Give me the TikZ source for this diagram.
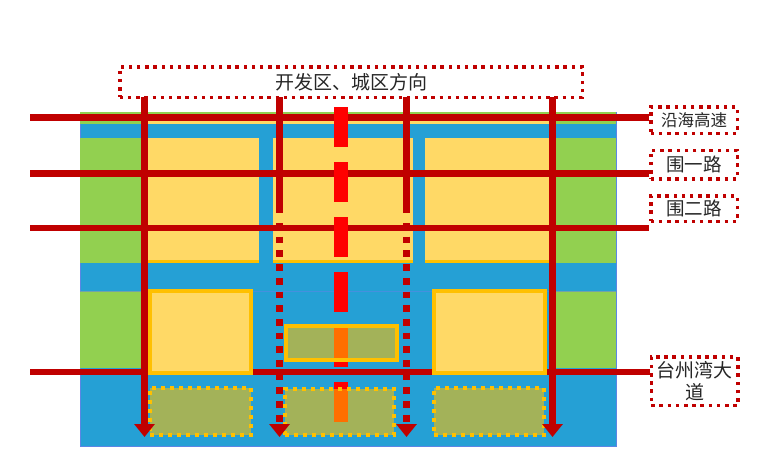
\documentclass[tikz,border=0pt]{standalone}
\usepackage{fontspec}
\newfontfamily\cjk{Noto Sans CJK SC}
\usetikzlibrary{arrows.meta}
\definecolor{mgreen}{HTML}{92D050}
\definecolor{mblue}{HTML}{25A0D5}
\definecolor{myellow}{HTML}{FFD966}
\definecolor{morange}{HTML}{FFC000}
\definecolor{dred}{HTML}{C00000}
\definecolor{bred}{HTML}{FF0000}
\definecolor{edgeblue}{HTML}{5B86E5}
\definecolor{labeltext}{HTML}{262626}
\begin{document}
\begin{tikzpicture}[x=1pt,y=-1pt,
  road/.style={dred,line width=6.7pt},
  roadarrow/.style={road,-{Triangle[width=20pt,length=13pt]}},
  dotroad/.style={road,dash pattern=on 6.7pt off 7pt,-{Triangle[width=20pt,length=13pt]}},
  labelbox/.style={draw=dred,line width=3.5pt,dash pattern=on 3.5pt off 4.7pt,fill=white,
    text=labeltext,inner sep=0pt,align=center},
  lfont/.style={font=\cjk\fontsize{18.5}{22}\selectfont},
  yblock/.style={fill=myellow},
  ybox/.style={fill=myellow,draw=morange,line width=4pt},
  obox/.style={fill=morange,fill opacity=0.58,draw=morange,line width=4pt},
  dbox/.style={obox,dash pattern=on 4pt off 5pt},
]
\useasboundingbox (0,0) rectangle (760,453);
\fill[white] (0,0) rectangle (760,453);

% base map
\fill[mblue,draw=edgeblue,line width=0.8pt] (80,112) rectangle (616,446);
\fill[mgreen] (80,112) rectangle (616,124);
\fill[myellow] (145,120) rectangle (553,124);
\fill[mgreen] (80,138) rectangle (145,263);
\fill[mgreen] (80,291) rectangle (145,368);
\fill[mgreen] (553,138) rectangle (616,263);
\fill[mgreen] (553,291) rectangle (616,368);
\draw[edgeblue,line width=0.6pt,opacity=0.6] (80,291) -- (616,291);

% top row blocks
\fill[yblock] (145,138) rectangle (259,263);
\fill[yblock] (273,138) rectangle (413,263);
\fill[yblock] (425,138) rectangle (553,263);
\draw[morange,line width=2.5pt] (145,261.5) -- (259,261.5);
\draw[morange,line width=2.5pt] (273,261.5) -- (413,261.5);
\draw[morange,line width=2.5pt] (425,261.5) -- (553,261.5);

% labels
\node[labelbox,font=\cjk\fontsize{19}{22}\selectfont,minimum width=462.5pt,minimum height=30.5pt] (top) at (351,82) {开发区、城区方向};
\node[labelbox,font=\cjk\fontsize{16.5}{20}\selectfont,minimum width=86.5pt,minimum height=26.5pt] (r1) at (694,120) {沿海高速};
\node[labelbox,lfont,minimum width=86.5pt,minimum height=28.5pt] (r2) at (694,164.5) {围一路};
\node[labelbox,lfont,minimum width=86.5pt,minimum height=25.5pt] (r3) at (694,208.5) {围二路};
\node[labelbox,font=\cjk\fontsize{19}{22}\selectfont,minimum width=86.5pt,minimum height=48.5pt] (r4) at (694.5,381) {台州湾大\\道};

% horizontal roads
\coordinate (h1) at (30,117.5);
\coordinate (h2) at (30,173.5);
\coordinate (h3) at (30,228);
\coordinate (h4) at (30,372);
\draw[road] (h1) -- (r1.west |- h1);
\draw[road] (h2) -- (r2.west |- h2);
\draw[road] (h3) -- (r3.west |- h3);
\draw[road] (h4) -- (r4.west |- h4);

% central dashed red axis
\coordinate (axA) at (341,107);
\coordinate (axB) at (341,422);
\draw[bred,line width=14pt,dash pattern=on 40pt off 15pt] (axA) -- (axB);

% second row boxes
\node[ybox,minimum width=101pt,minimum height=82pt,inner sep=0pt] (bL) at (200.5,332) {};
\node[ybox,minimum width=111pt,minimum height=82pt,inner sep=0pt] (bR) at (489.5,332) {};
\node[obox,minimum width=111pt,minimum height=34pt,inner sep=0pt] (bM) at (341.5,343) {};

% bottom dotted boxes
\node[dbox,minimum width=101pt,minimum height=47pt,inner sep=0pt] (dL) at (200.5,411.5) {};
\node[dbox,minimum width=109pt,minimum height=46pt,inner sep=0pt] (dM) at (339.5,412) {};
\node[dbox,minimum width=110pt,minimum height=47pt,inner sep=0pt] (dR) at (489,411.5) {};

% vertical roads
\coordinate (v1s) at (144.5,97);  \coordinate (v1e) at (144.5,437);
\coordinate (v2s) at (279.5,97);  \coordinate (v2m) at (279.5,213); \coordinate (v2d) at (279.5,223); \coordinate (v2e) at (279.5,437);
\coordinate (v3s) at (406.5,97);  \coordinate (v3m) at (406.5,213); \coordinate (v3d) at (406.5,223); \coordinate (v3e) at (406.5,437);
\coordinate (v4s) at (552.5,97);  \coordinate (v4e) at (552.5,437);
\draw[roadarrow] (v1s) -- (v1e);
\draw[road] (v2s) -- (v2m);
\draw[dotroad] (v2d) -- (v2e);
\draw[road] (v3s) -- (v3m);
\draw[dotroad] (v3d) -- (v3e);
\draw[roadarrow] (v4s) -- (v4e);
\end{tikzpicture}
\end{document}
